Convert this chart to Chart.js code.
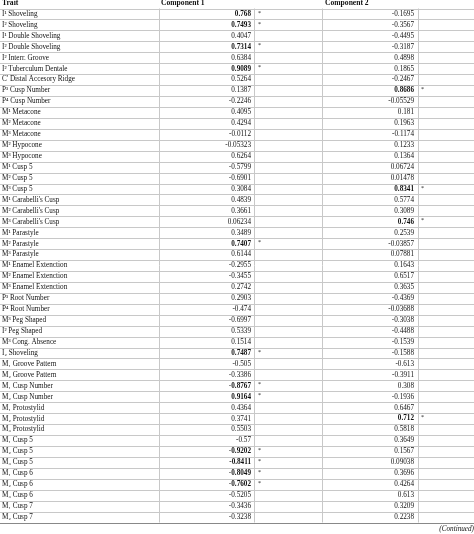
<!DOCTYPE html>
<html>
<head>
<meta charset="utf-8">
<script src="https://cdn.jsdelivr.net/npm/chart.js@4/dist/chart.umd.min.js"></script>
<style>
  body { margin: 0; background: #fff; }
  #wrap { width: 474px; height: 534px; }
</style>
</head>
<body>
<div id="wrap"><canvas id="c"></canvas></div>
<script>
const traits = [
  'I¹ Shoveling', 'I² Shoveling', 'I¹ Double Shoveling', 'I² Double Shoveling', 'I² Interr. Groove',
  'I² Tuberculum Dentale', "C' Distal Accesory Ridge", 'P³ Cusp Number', 'P⁴ Cusp Number',
  'M¹ Metacone', 'M² Metacone', 'M³ Metacone', 'M² Hypocone', 'M³ Hypocone', 'M¹ Cusp 5', 'M² Cusp 5',
  'M³ Cusp 5', "M¹ Carabelli's Cusp", "M² Carabelli's Cusp", "M³ Carabelli's Cusp", 'M¹ Parastyle',
  'M² Parastyle', 'M³ Parastyle', 'M¹ Enamel Extenction', 'M² Enamel Extenction', 'M³ Enamel Extenction',
  'P³ Root Number', 'P⁴ Root Number', 'M³ Peg Shaped', 'I² Peg Shaped', 'M³ Cong. Absence',
  'I₂ Shoveling', 'M₁ Groove Pattern', 'M₂ Groove Pattern', 'M₁ Cusp Number', 'M₂ Cusp Number',
  'M₁ Protostylid', 'M₂ Protostylid', 'M₃ Protostylid', 'M₁ Cusp 5', 'M₂ Cusp 5', 'M₃ Cusp 5',
  'M₁ Cusp 6', 'M₂ Cusp 6', 'M₃ Cusp 6', 'M₁ Cusp 7', 'M₂ Cusp 7'
];
const comp1 = ['0.768','0.7493','0.4047','0.7314','0.6384','0.9089','0.5264','0.1387','-0.2246',
  '0.4095','0.4294','-0.0112','-0.05323','0.6264','-0.5799','-0.6901','0.3084','0.4839','0.3661',
  '0.06234','0.3489','0.7407','0.6144','-0.2955','-0.3455','0.2742','0.2903','-0.474','-0.6997',
  '0.5339','0.1514','0.7487','-0.505','-0.3386','-0.8767','0.9164','0.4364','0.3741','0.5503',
  '-0.57','-0.9202','-0.8411','-0.8049','-0.7602','-0.5205','-0.3436','-0.3238'];
const comp2 = ['-0.1695','-0.3567','-0.4495','-0.3187','0.4898','0.1865','-0.2467','0.8686','-0.05529',
  '0.181','0.1963','-0.1174','0.1233','0.1364','0.06724','0.01478','0.8341','0.5774','0.3089',
  '0.746','0.2539','-0.03857','0.07881','0.1643','0.6517','0.3635','-0.4369','-0.03688','-0.3038',
  '-0.4488','-0.1539','-0.1588','-0.613','-0.3911','0.308','-0.1936','0.6467','0.712','0.5818',
  '0.3649','0.1567','0.09038','0.3696','0.4264','0.613','0.3209','0.2238'];
const headers = ['Trait', 'Component 1', 'Component 2'];
const sigThreshold = 0.7;

// column positions (pixels on a 0..474 x scale)
const colTrait = 2, colC1Head = 161, colC1Val = 251, colStar1 = 258, colC2Head = 325, colC2Val = 414, colStar2 = 421;
const vLines = [159, 254, 322, 418];

const tablePlugin = {
  id: 'table',
  afterDraw(chart) {
    const ctx = chart.ctx, xs = chart.scales.x, ys = chart.scales.y;
    const serif = '"Liberation Serif", "DejaVu Serif", serif';
    const fs = '7.2px ';
    ctx.save();
    ctx.textBaseline = 'middle';
    ctx.strokeStyle = '#c8c8c8';
    ctx.lineWidth = 1;
    for (let i = 0; i <= traits.length; i++) {
      const y = Math.round(ys.getPixelForValue(i - 0.5)) + 0.5;
      ctx.beginPath(); ctx.moveTo(0, y); ctx.lineTo(474, y); ctx.stroke();
    }
    const yTop = ys.getPixelForValue(-0.5), yBot = ys.getPixelForValue(traits.length - 0.5);
    vLines.forEach(v => {
      const x = Math.round(xs.getPixelForValue(v)) + 0.5;
      ctx.beginPath(); ctx.moveTo(x, yTop); ctx.lineTo(x, yBot); ctx.stroke();
    });
    ctx.strokeStyle = '#888';
    ctx.beginPath(); ctx.moveTo(0, Math.round(yBot) + 0.5); ctx.lineTo(474, Math.round(yBot) + 0.5); ctx.stroke();

    ctx.fillStyle = '#111';
    ctx.font = 'bold 7.6px ' + serif;
    ctx.textAlign = 'left';
    const yh = ys.getPixelForValue(-1);
    ctx.fillText(headers[0], xs.getPixelForValue(colTrait), yh);
    ctx.fillText(headers[1], xs.getPixelForValue(colC1Head), yh);
    ctx.fillText(headers[2], xs.getPixelForValue(colC2Head), yh);

    traits.forEach((t, i) => {
      const y = ys.getPixelForValue(i);
      ctx.textAlign = 'left';
      ctx.font = fs + serif;
      ctx.fillText(t, xs.getPixelForValue(colTrait), y);
      [[comp1[i], colC1Val, colStar1], [comp2[i], colC2Val, colStar2]].forEach(([v, cx, sx]) => {
        const sig = Math.abs(parseFloat(v)) >= sigThreshold;
        ctx.textAlign = 'right';
        ctx.font = (sig ? 'bold ' : '') + fs + serif;
        ctx.fillText(v, xs.getPixelForValue(cx), y);
        if (sig) {
          ctx.textAlign = 'left';
          ctx.font = '6px ' + serif;
          ctx.fillText('*', xs.getPixelForValue(sx), y - 1);
        }
      });
    });
    ctx.textAlign = 'right';
    ctx.font = 'italic ' + fs + serif;
    ctx.fillText('(Continued)', 474, yBot + 7);
    ctx.restore();
  }
};

new Chart(document.getElementById('c'), {
  type: 'scatter',
  data: { datasets: [{ data: [], pointRadius: 0 }] },
  options: {
    responsive: true,
    maintainAspectRatio: false,
    animation: false,
    layout: { padding: 0 },
    plugins: { legend: { display: false }, tooltip: { enabled: false } },
    scales: {
      x: { type: 'linear', min: 0, max: 474, display: false },
      y: { type: 'linear', reverse: true, min: -1.28, max: 47.55, display: false }
    }
  },
  plugins: [tablePlugin]
});
</script>
</body>
</html>
